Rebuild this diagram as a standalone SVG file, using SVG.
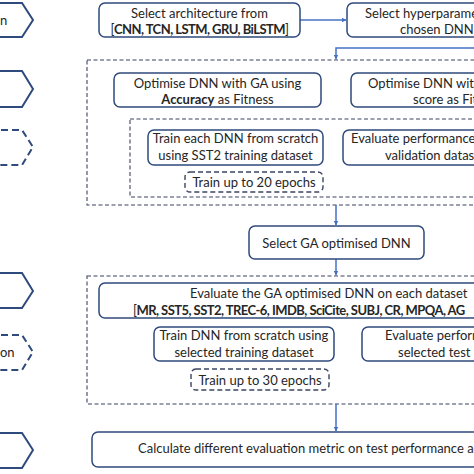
<svg xmlns="http://www.w3.org/2000/svg" width="474" height="474" viewBox="0 0 474 474">
<defs>
<marker id="ah" viewBox="0 0 10 10" refX="9" refY="5" markerWidth="5" markerHeight="5" orient="auto" markerUnits="userSpaceOnUse">
<path d="M0,0 L10,5 L0,10 z" fill="#4472C4"/>
</marker>
<style>
.box{fill:#fff;stroke:#2F4A7C;stroke-width:1.5}
.dbox{fill:none;stroke:#3C4460;stroke-width:1.1;stroke-dasharray:4 2.5}
.drbox{fill:#fff;stroke:#3C4460;stroke-width:1.4;stroke-dasharray:5 3}
.pent{fill:#fff;stroke:#2F4A7C;stroke-width:2}
.pentd{fill:#fff;stroke:#2F4A7C;stroke-width:2;stroke-dasharray:7 4}
.t{font-family:Lato,"Open Sans","Liberation Sans",sans-serif;font-size:13px;fill:#262626}
.c{text-anchor:middle}
.b{font-weight:bold}
.tight{letter-spacing:-0.55px}
.con{fill:none;stroke:#4472C4;stroke-width:1.5}
</style>
</defs>
<rect width="474" height="474" fill="#fff"/>

<g id="stages">
<g id="stage1"><polygon class="pent" points="-10,3 22,3 33,20 22,37 -10,37"/><text class="t" x="0" y="25">n</text></g>
<g id="stage2"><polygon class="pent" points="-10,71 22,71 33,89 22,107 -10,107"/></g>
<g id="stage3"><polygon class="pentd" points="-10,130 22,130 33,147 22,165 -10,165"/></g>
<g id="stage4"><polygon class="pent" points="-10,273 22,273 33,291 22,308 -10,308"/></g>
<g id="stage5"><polygon class="pentd" points="-10,335 22,335 33,352 22,370 -10,370"/><text class="t" x="0" y="357">on</text></g>
<g id="stage6"><polygon class="pent" points="-10,433 22,433 33,450 22,468 -10,468"/></g>
</g>

<g id="group-ga"><rect class="dbox" x="87" y="60" width="400" height="145"/></g>
<g id="group-train"><rect class="dbox" x="130" y="119" width="360" height="78"/></g>
<g id="group-eval"><rect class="dbox" x="87" y="276" width="400" height="128"/></g>

<g id="connectors">
<line class="con" x1="300" y1="20" x2="346" y2="20" marker-end="url(#ah)"/>
<polyline class="con" points="480,48 336,48 336,59" marker-end="url(#ah)"/>
<line class="con" x1="336" y1="205" x2="336" y2="225" marker-end="url(#ah)"/>
<line class="con" x1="336" y1="259" x2="336" y2="275" marker-end="url(#ah)"/>
<line class="con" x1="336" y1="404" x2="336" y2="431" marker-end="url(#ah)"/>
</g>

<g id="select-arch"><rect class="box" x="99" y="3" width="201" height="34" rx="6"/>
<text class="t c" x="199.5" y="17.5">Select architecture from</text>
<text class="t c tight" x="199.5" y="34">[<tspan class="b">CNN, TCN, LSTM, GRU, BiLSTM</tspan>]</text></g>

<g id="select-hyper"><rect class="box" x="347" y="3" width="200" height="34" rx="6"/>
<text class="t" x="365" y="17.5">Select hyperparame</text>
<text class="t" x="400" y="34">chosen DNN f</text></g>

<g id="opt-acc"><rect class="box" x="114" y="73" width="207" height="34" rx="6"/>
<text class="t c" x="217.5" y="88">Optimise DNN with GA using</text>
<text class="t c" x="217.5" y="104"><tspan class="b">Accuracy</tspan> as Fitness</text></g>

<g id="opt-f1"><rect class="box" x="351" y="73" width="207" height="34" rx="6"/>
<text class="t" x="368" y="88">Optimise DNN with</text>
<text class="t" x="413" y="104">score as Fit</text></g>

<g id="train-sst2"><rect class="box" x="148" y="130" width="175" height="35" rx="6"/>
<text class="t c" x="235.5" y="143">Train each DNN from scratch</text>
<text class="t c" x="235.5" y="160">using SST2 training dataset</text></g>

<g id="eval-val"><rect class="box" x="343" y="130" width="190" height="35" rx="6"/>
<text class="t" x="351" y="143">Evaluate performance</text>
<text class="t" x="385" y="160">validation datas</text></g>

<g id="epochs20"><rect class="drbox" x="185" y="172" width="138" height="20" rx="5"/>
<text class="t c" x="254" y="187">Train up to 20 epochs</text></g>

<g id="select-ga"><rect class="box" x="249" y="226" width="175" height="33" rx="6"/>
<text class="t c" x="336.5" y="248">Select GA optimised DNN</text></g>

<g id="eval-datasets"><rect class="box" x="99" y="283" width="420" height="35" rx="6"/>
<text class="t" x="190" y="298">Evaluate the GA optimised DNN on each dataset</text>
<text class="t tight" x="133" y="315">[<tspan class="b">MR, SST5, SST2, TREC-6, IMDB, SciCite, SUBJ, CR, MPQA, AG</tspan></text></g>

<g id="train-selected"><rect class="box" x="154" y="327" width="180" height="34" rx="6"/>
<text class="t c" x="244" y="340">Train DNN from scratch using</text>
<text class="t c" x="244" y="357">selected training dataset</text></g>

<g id="eval-test"><rect class="box" x="362" y="327" width="180" height="34" rx="6"/>
<text class="t" x="385" y="340">Evaluate perform</text>
<text class="t" x="398" y="357">selected test</text></g>

<g id="epochs30"><rect class="drbox" x="191" y="369" width="138" height="21" rx="5"/>
<text class="t c" x="260" y="385">Train up to 30 epochs</text></g>

<g id="calc-metric"><rect class="box" x="92" y="432" width="420" height="35" rx="6"/>
<text class="t" x="138" y="453">Calculate different evaluation metric on test performance an</text></g>
</svg>
